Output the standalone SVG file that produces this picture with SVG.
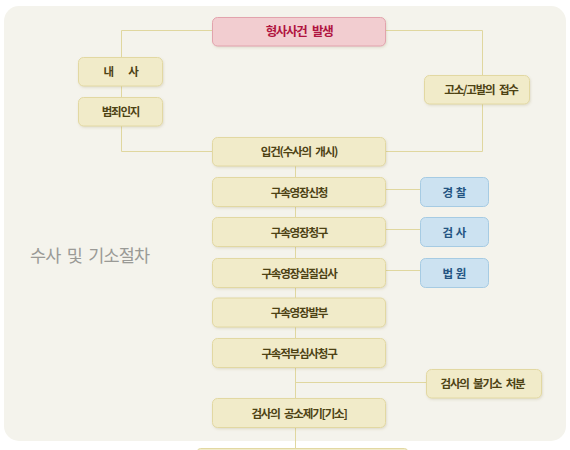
<svg xmlns="http://www.w3.org/2000/svg" width="570" height="450" viewBox="0 0 570 450">
<style>
.bx{fill:#f1ebc9;stroke:#e2d8a2;stroke-width:1}
.pk{fill:#f2cdd0;stroke:#e2a3ad;stroke-width:1}
.bl{fill:#cce2f1;stroke:#a6cbe3;stroke-width:1}
.t{font-family:"Noto Sans CJK KR","Noto Sans",sans-serif;font-size:11.5px;font-weight:bold;fill:#4d4214;text-anchor:middle;letter-spacing:-1.2px;word-spacing:3px}
.tp{fill:#b0143f;font-size:12.5px;letter-spacing:-1.3px;word-spacing:4px}
.tb{fill:#235482;letter-spacing:0;word-spacing:0}
.ln{stroke:#e0d79f;stroke-width:1;fill:none}
.ttl{font-family:"Noto Sans CJK KR","Noto Sans",sans-serif;font-size:17.5px;fill:#9a9a96;letter-spacing:-0.8px;word-spacing:3px}
</style>
<defs>
<filter id="sh" x="-10%" y="-20%" width="120%" height="150%">
<feDropShadow dx="0.8" dy="1.2" stdDeviation="0.8" flood-color="#8a7a40" flood-opacity="0.2"/>
</filter>
</defs>
<rect x="0" y="0" width="570" height="450" fill="#ffffff"/>
<rect x="4" y="6" width="562" height="435" rx="15" fill="#f4f3ec"/>
<text class="ttl" x="30" y="262">수사 및 기소절차</text>
<g id="connectors">
<path class="ln" d="M212.5,30.5H121.5V57M121.5,86V97M121.5,126V151.5H212"/>
<path class="ln" d="M386,30.5H482.5V75M482.5,104V151.5H386"/>
<path class="ln" d="M295.5,166V450"/>
<path class="ln" d="M386,189.5H420M386,229.5H420M386,270.5H420"/>
<path class="ln" d="M295.5,382.5H426"/>
</g>
<g id="n-start"><rect class="pk" x="212.5" y="17.5" width="173" height="28.5" rx="5" filter="url(#sh)"/><text class="t tp" x="299" y="36">형사사건 발생</text></g>
<g id="n-naesa"><rect class="bx" x="78.5" y="57.5" width="84" height="28.5" rx="5" filter="url(#sh)"/><text class="t" x="120.5" y="76" style="word-spacing:14px">내 사</text></g>
<g id="n-beomjoe"><rect class="bx" x="78.5" y="97.5" width="84" height="28.5" rx="5" filter="url(#sh)"/><text class="t" x="120.5" y="116">범죄인지</text></g>
<g id="n-goso"><rect class="bx" x="424.5" y="75.5" width="105" height="28.5" rx="5" filter="url(#sh)"/><text class="t" x="481" y="94">고소/고발의 접수</text></g>
<g id="n-ipgeon"><rect class="bx" x="212.5" y="137.5" width="173" height="28.5" rx="5" filter="url(#sh)"/><text class="t" x="299" y="156">입건(수사의 개시)</text></g>
<g id="n-1"><rect class="bx" x="212.5" y="177.5" width="173" height="29" rx="5" filter="url(#sh)"/><text class="t" x="299" y="196.5">구속영장신청</text></g>
<g id="n-2"><rect class="bx" x="212.5" y="217.5" width="173" height="29" rx="5" filter="url(#sh)"/><text class="t" x="299" y="236.5">구속영장청구</text></g>
<g id="n-3"><rect class="bx" x="212.5" y="258.5" width="173" height="29" rx="5" filter="url(#sh)"/><text class="t" x="299" y="277.5">구속영장실질심사</text></g>
<g id="n-4"><rect class="bx" x="212.5" y="298" width="173" height="29" rx="5" filter="url(#sh)"/><text class="t" x="299" y="317">구속영장발부</text></g>
<g id="n-5"><rect class="bx" x="212.5" y="338.5" width="173" height="29" rx="5" filter="url(#sh)"/><text class="t" x="299" y="357.5">구속적부심사청구</text></g>
<g id="n-6"><rect class="bx" x="212.5" y="398.5" width="173" height="29" rx="5" filter="url(#sh)"/><text class="t" x="299" y="417.5">검사의 공소제기[기소]</text></g>
<g id="n-police"><rect class="bl" x="420.5" y="177.5" width="68" height="29" rx="5"/><text class="t tb" x="454.5" y="196.5">경 찰</text></g>
<g id="n-prosecutor"><rect class="bl" x="420.5" y="217.5" width="68" height="29" rx="5"/><text class="t tb" x="454.5" y="236.5">검 사</text></g>
<g id="n-court"><rect class="bl" x="420.5" y="258.5" width="68" height="29" rx="5"/><text class="t tb" x="454.5" y="277.5">법 원</text></g>
<g id="n-bulgiso"><rect class="bx" x="426.5" y="369.5" width="115" height="28.5" rx="5" filter="url(#sh)"/><text class="t" x="482.5" y="388">검사의 불기소 처분</text></g>
<g id="n-next"><rect class="bx" x="197.5" y="448.5" width="210" height="20" rx="3"/></g>
</svg>
